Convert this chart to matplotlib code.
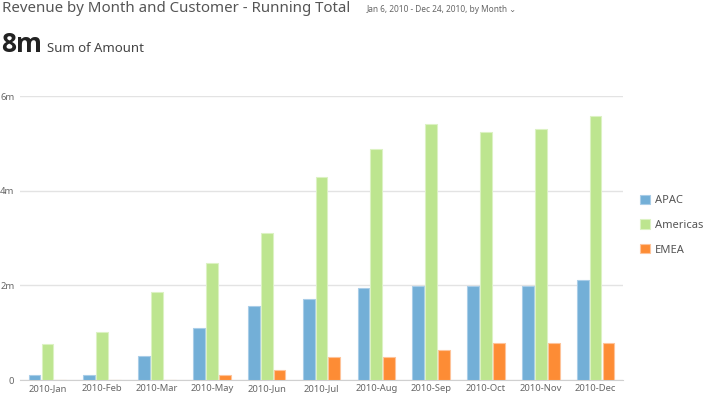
import numpy as np
import matplotlib
matplotlib.use("Agg")
import matplotlib.pyplot as plt

plt.rcParams['font.family'] = ['Noto Sans', 'DejaVu Sans']

months = ['2010-Jan', '2010-Feb', '2010-Mar', '2010-May', '2010-Jun', '2010-Jul',
          '2010-Aug', '2010-Sep', '2010-Oct', '2010-Nov', '2010-Dec']
# running totals in millions
apac     = [0.10, 0.10, 0.50, 1.10, 1.56, 1.71, 1.94, 1.99, 1.99, 1.99, 2.11]
americas = [0.76, 1.02, 1.85, 2.47, 3.10, 4.28, 4.87, 5.41, 5.25, 5.31, 5.57]
emea     = [0.00, 0.00, 0.00, 0.10, 0.205, 0.49, 0.49, 0.63, 0.78, 0.78, 0.78]
series   = ['APAC', 'Americas', 'EMEA']
colors   = ['#73afd7', '#bde58f', '#fd8c35']
edges    = ['#a9cde8', '#dcf2c3', '#fec39a']
yticks   = [0, 2, 4, 6]
ylabels  = ['0', '2m', '4m', '6m']

fig = plt.figure(figsize=(7.08, 3.98), dpi=100)
ax = fig.add_axes([20/708, 18/398, 603/708, 284/398])

x = np.arange(len(months))
w = 0.215
off = 0.235
for k, vals in enumerate([apac, americas, emea]):
    ax.bar(x + (k - 1) * off, vals, width=w, color=colors[k], edgecolor=edges[k],
           linewidth=0.8, label=series[k], zorder=3)

ax.set_xlim(-0.5, len(months) - 0.5)
ax.set_ylim(0, 6)
ax.set_yticks(yticks)
ax.set_yticklabels(ylabels)
ax.set_xticks(x)
ax.set_xticklabels(months)
ax.tick_params(axis='both', length=0, labelsize=6.8, colors='#666666')
ax.tick_params(axis='x', pad=3)
ax.tick_params(axis='y', pad=4)
ax.grid(axis='y', color='#e3e3e3', linewidth=1, zorder=0)
for s in ['top', 'right', 'left']:
    ax.spines[s].set_visible(False)
ax.spines['bottom'].set_color('#d0d0d0')

leg = ax.legend(loc='center left', bbox_to_anchor=(1.012, 0.545), frameon=False,
                fontsize=8, handlelength=0.9, handleheight=0.9, labelspacing=1.2,
                handletextpad=0.45, labelcolor='#555555')

fig.text(2/708, 1 - 9/398, 'Revenue by Month and Customer - Running Total',
         fontsize=10.8, color='#555555', va='center', ha='left')
fig.text(367/708, 1 - 9/398, 'Jan 6, 2010 - Dec 24, 2010, by Month \u2304',
         fontsize=6.0, color='#666666', va='center', ha='left')
fig.text(1/708, 1 - 52/398, '8m', fontsize=19, fontweight='bold', color='#222222',
         va='baseline', ha='left', family=['Open Sans', 'DejaVu Sans'])
fig.text(47/708, 1 - 52/398, 'Sum of Amount', fontsize=9.5, color='#444444',
         va='baseline', ha='left')

fig.savefig('out.png', dpi=100)
